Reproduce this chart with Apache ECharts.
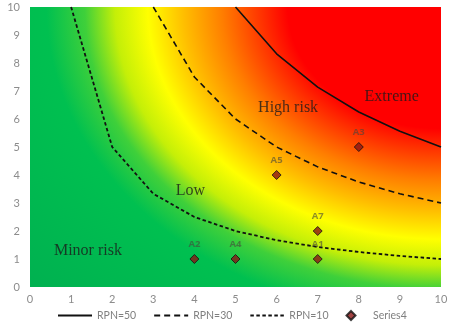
<!DOCTYPE html>
<html>
<head>
<meta charset="utf-8">
<script src="https://cdn.jsdelivr.net/npm/echarts@6/dist/echarts.min.js"></script>
<style>
  html, body { margin: 0; padding: 0; background: #fff; }
  #riskChart { width: 474px; height: 332px; }
</style>
</head>
<body>
<div id="riskChart"></div>
<script>
// iso-RPN curves, read at integer x
const rpn50X = [5, 6, 7, 8, 9, 10];
const rpn50Y = [10, 8.33, 7.14, 6.25, 5.56, 5];
const rpn30X = [3, 4, 5, 6, 7, 8, 9, 10];
const rpn30Y = [10, 7.5, 6, 5, 4.29, 3.75, 3.33, 3];
const rpn10X = [1, 2, 3, 4, 5, 6, 7, 8, 9, 10];
const rpn10Y = [10, 5, 3.33, 2.5, 2, 1.67, 1.43, 1.25, 1.11, 1];

// risk items
const pointNames = ['A1', 'A2', 'A3', 'A4', 'A5', 'A7'];
const pointX = [7, 4, 8, 5, 6, 7];
const pointY = [1, 1, 5, 1, 4, 2];

// zone captions
const zoneNames = ['Minor risk', 'Low', 'High risk', 'Extreme'];
const zoneX = [1.41, 3.9, 6.28, 8.8];
const zoneY = [1.28, 3.45, 6.4, 6.78];

const axisTicks = [0, 1, 2, 3, 4, 5, 6, 7, 8, 9, 10];

const zip = (xs, ys) => xs.map((x, i) => [x, ys[i]]);

const chart = echarts.init(document.getElementById('riskChart'));

const axisCommon = {
  type: 'value',
  min: axisTicks[0],
  max: axisTicks[axisTicks.length - 1],
  interval: 1,
  axisLine: { show: false },
  axisTick: { show: false },
  splitLine: { show: false },
  axisLabel: { color: '#8c8c8c', fontSize: 11, fontFamily: 'Lato' }
};

// hide the marker the line legend icon draws
const noDot = { opacity: 0 };

const option = {
  animation: false,
  grid: { left: 30, right: 33, top: 7, bottom: 45 },
  xAxis: Object.assign({}, axisCommon, { axisLabel: Object.assign({}, axisCommon.axisLabel, { margin: 7 }) }),
  yAxis: Object.assign({}, axisCommon, { axisLabel: Object.assign({}, axisCommon.axisLabel, { margin: 10 }) }),
  legend: {
    bottom: 6,
    left: 52,
    itemWidth: 34,
    itemHeight: 9,
    itemGap: 17,
    textStyle: { color: '#7f7f7f', fontSize: 10.5, fontFamily: 'Lato' },
    data: [
      { name: 'RPN=50', itemStyle: noDot },
      { name: 'RPN=30', itemStyle: noDot },
      { name: 'RPN=10', itemStyle: noDot },
      { name: 'Series4', icon: 'path://M5,0L10,5L5,10L0,5Z' }
    ]
  },
  series: [
    {
      name: 'RPN=50', type: 'line', symbol: 'none', z: 3, color: '#111',
      lineStyle: { color: '#111', width: 1.6, type: 'solid' },
      data: zip(rpn50X, rpn50Y)
    },
    {
      name: 'RPN=30', type: 'line', symbol: 'none', z: 3, color: '#111',
      lineStyle: { color: '#111', width: 1.6, type: [6, 4] },
      data: zip(rpn30X, rpn30Y)
    },
    {
      name: 'RPN=10', type: 'line', symbol: 'none', z: 3, color: '#111',
      lineStyle: { color: '#111', width: 1.8, type: [3.5, 2.5] },
      data: zip(rpn10X, rpn10Y)
    },
    {
      name: 'Series4', type: 'scatter', symbol: 'diamond', symbolSize: 9, z: 4,
      itemStyle: { color: '#8b1414', borderColor: '#111', borderWidth: 1 },
      label: {
        show: true, position: 'top', distance: 5,
        formatter: p => p.name,
        color: 'rgba(70,70,60,0.75)', fontSize: 9.5, fontWeight: 'bold', fontFamily: 'Open Sans'
      },
      data: pointNames.map((n, i) => ({ name: n, value: [pointX[i], pointY[i]] }))
    },
    {
      name: 'zones', type: 'scatter', symbolSize: 0, z: 4, silent: true,
      itemStyle: { color: 'transparent' },
      label: {
        show: true, position: 'inside',
        formatter: p => p.name,
        color: '#1a1a1a', fontSize: 16, fontFamily: 'Liberation Serif'
      },
      data: zoneNames.map((n, i) => ({ name: n, value: [zoneX[i], zoneY[i]] }))
    }
  ]
};

chart.setOption(option);

// background heat gradient, anchored to the plot corners
const tl = chart.convertToPixel({ gridIndex: 0 }, [0, 10]);
const br = chart.convertToPixel({ gridIndex: 0 }, [10, 0]);
const w = br[0] - tl[0];
const h = br[1] - tl[1];
const h0 = w * 0.86;
chart.setOption({
  graphic: [{
    type: 'rect', silent: true, z: -10,
    x: tl[0], y: tl[1], scaleY: h / h0,
    shape: { x: 0, y: 0, width: w, height: h0 },
    style: {
      fill: new echarts.graphic.RadialGradient(1, 0, 1.55, [
        { offset: 0, color: '#ff0000' },
        { offset: 0.28, color: '#ff0000' },
        { offset: 0.40, color: '#ff7e00' },
        { offset: 0.47, color: '#ffbe00' },
        { offset: 0.535, color: '#ffff00' },
        { offset: 0.595, color: '#c4ef08' },
        { offset: 0.65, color: '#3fd03a' },
        { offset: 0.72, color: '#00c050' },
        { offset: 1, color: '#00b050' }
      ])
    }
  }]
});
</script>
</body>
</html>
